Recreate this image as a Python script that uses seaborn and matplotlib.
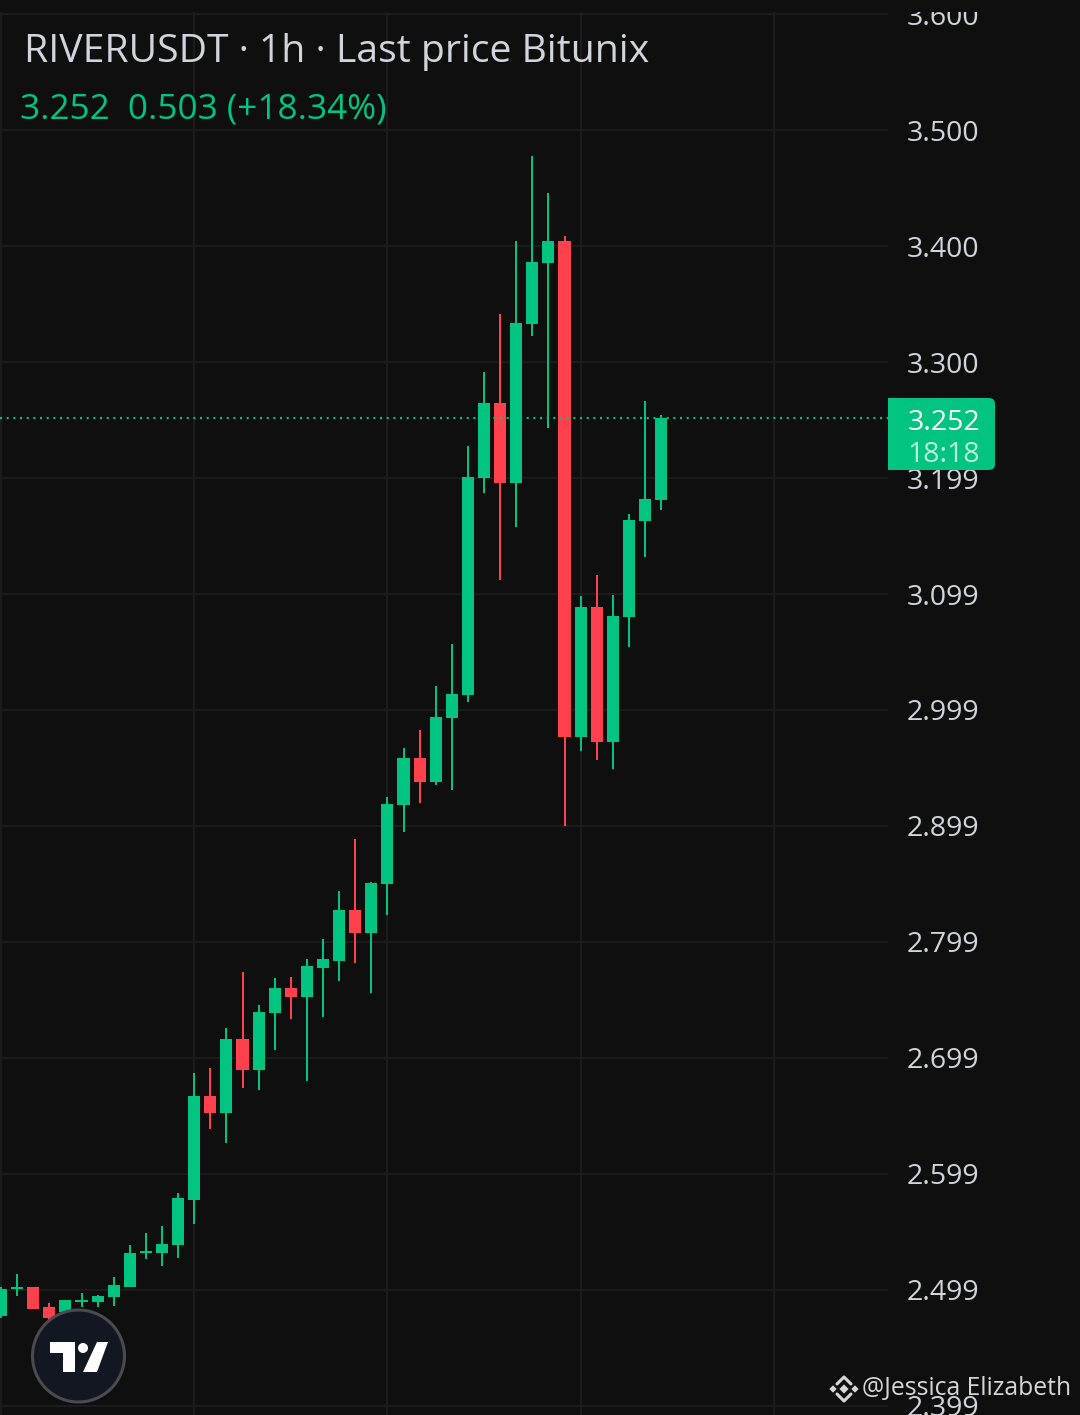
import numpy as np
import pandas as pd
import matplotlib.pyplot as plt
import seaborn as sns
from matplotlib.patches import Circle, Polygon, FancyBboxPatch, Rectangle

# HOURLY CANDLES
opens = [2.478, 2.501, 2.503, 2.485, 2.481, 2.490, 2.490, 2.494, 2.503, 2.532,
         2.532, 2.539, 2.578, 2.667, 2.653, 2.716, 2.690, 2.739, 2.760, 2.753,
         2.778, 2.784, 2.828, 2.808, 2.850, 2.918, 2.959, 2.938, 2.993, 3.013,
         3.200, 3.265, 3.196, 3.333, 3.385, 3.404, 2.977, 3.089, 2.972, 3.080,
         3.163, 3.181]
closes = [2.501, 2.502, 2.484, 2.476, 2.491, 2.491, 2.495, 2.504, 2.532, 2.533,
          2.540, 2.579, 2.667, 2.653, 2.716, 2.690, 2.740, 2.760, 2.753, 2.779,
          2.785, 2.828, 2.808, 2.851, 2.919, 2.959, 2.938, 2.994, 3.014, 3.201,
          3.265, 3.196, 3.334, 3.386, 3.404, 2.977, 3.089, 2.972, 3.081, 3.164,
          3.182, 3.252]
highs = [2.503, 2.514, 2.503, 2.489, 2.491, 2.497, 2.496, 2.511, 2.539, 2.549,
         2.555, 2.584, 2.687, 2.691, 2.726, 2.774, 2.746, 2.769, 2.770, 2.785,
         2.803, 2.844, 2.889, 2.852, 2.925, 2.967, 2.983, 3.021, 3.057, 3.228,
         3.291, 3.341, 3.404, 3.478, 3.446, 3.409, 3.098, 3.116, 3.099, 3.169,
         3.266, 3.254]
lows = [2.476, 2.495, 2.484, 2.473, 2.478, 2.485, 2.485, 2.486, 2.503, 2.527,
        2.521, 2.528, 2.557, 2.639, 2.627, 2.674, 2.672, 2.707, 2.734, 2.680,
        2.735, 2.766, 2.782, 2.756, 2.823, 2.895, 2.920, 2.935, 2.931, 3.007,
        3.187, 3.112, 3.158, 3.322, 3.243, 2.900, 2.965, 2.957, 2.949, 3.054,
        3.132, 3.172]

tick_values = [3.6, 3.5, 3.4, 3.3, 3.2, 3.1, 3.0, 2.9, 2.8, 2.7, 2.6, 2.5, 2.4]
tick_labels = ["3.600", "3.500", "3.400", "3.300", "3.199", "3.099", "2.999",
               "2.899", "2.799", "2.699", "2.599", "2.499", "2.399"]
time_grid = [0, 12, 24, 36, 48]

last_price = 3.252
title = "RIVERUSDT \u00b7 1h \u00b7 Last price Bitunix"
subtitle = "3.252  0.503 (+18.34%)"
countdown = "18:18"
watermark = "@Jessica Elizabeth"

BG = "#0f0f0f"
GRID = "#1c1c1c"
UP = "#00c47f"
DOWN = "#ff414e"
TXT = "#d1d4dc"

df = pd.DataFrame({"open": opens, "high": highs, "low": lows, "close": closes})
df["i"] = np.arange(len(df))
df["up"] = df["close"] >= df["open"]
df["color"] = np.where(df["up"], UP, DOWN)
df["bottom"] = df[["open", "close"]].min(axis=1)
df["body"] = (df["close"] - df["open"]).abs().clip(lower=0.0018)

sns.set_theme(style="dark", rc={"axes.facecolor": BG, "figure.facecolor": BG})
plt.rcParams["font.family"] = ["Open Sans", "DejaVu Sans"]

fig = plt.figure(figsize=(10.8, 14.15), dpi=100)
ax = fig.add_axes([0, 0, 888 / 1080, 1])
ax.set_facecolor(BG)

# grid
for v in tick_values:
    ax.axhline(v, color=GRID, lw=1.5, zorder=0)
for t in time_grid:
    ax.axvline(t, color=GRID, lw=1.5, zorder=0)

# candles
ax.vlines(df["i"], df["low"], df["high"], colors=df["color"], lw=1.45, zorder=2)
ax.bar(df["i"], df["body"], bottom=df["bottom"], width=0.75,
       color=df["color"], linewidth=0, zorder=3)

# last price line
ax.axhline(last_price, color=UP, ls=(0, (1, 2.2)), lw=1.5, zorder=4)

ax.set_xlim(-0.062, 55.09)
ax.set_ylim(2.39224, 3.61207)
ax.set_xticks([])
ax.yaxis.tick_right()
ax.set_yticks(tick_values)
ax.set_yticklabels(tick_labels)
ax.tick_params(axis="y", length=0, pad=13.7, labelsize=20.5, labelcolor=TXT)
ax.grid(False)
for s in ax.spines.values():
    s.set_visible(False)

# overlay in pixel coordinates
ov = fig.add_axes([0, 0, 1, 1])
ov.set_xlim(0, 1080)
ov.set_ylim(1415, 0)
ov.axis("off")
ov.patch.set_alpha(0)

# top strip hides the upper part of the 3.600 label
ov.add_patch(Rectangle((0, 0), 1080, 12, fc=BG, ec="none"))

ov.text(24, 62, title, fontsize=28.2, color=TXT, va="baseline", ha="left")
ov.text(20, 118, subtitle, fontsize=25.3, color=UP, va="baseline", ha="left")

# price badge
ov.add_patch(FancyBboxPatch((888, 398), 107, 72,
                            boxstyle="round,pad=0,rounding_size=6",
                            fc=UP, ec="none"))
ov.add_patch(Rectangle((888, 398), 12, 72, fc=UP, ec="none"))
ov.text(944, 420, "3.252", fontsize=20.5, color="white", ha="center", va="center_baseline")
ov.text(944, 452, countdown, fontsize=20.5, color="#b9f2da", ha="center", va="center_baseline")

# tradingview logo
ov.add_patch(Circle((78.5, 1356), 46, fc="#131722", ec="#4a4a50", lw=2.2))
ov.add_patch(Polygon([(50, 1342), (75, 1342), (75, 1372), (63, 1372),
                      (63, 1353), (50, 1353)], closed=True, fc="white", ec="none"))
ov.add_patch(Circle((83, 1348), 5, fc="white", ec="none"))
ov.add_patch(Polygon([(97, 1342), (108, 1342), (97, 1372), (83, 1372)],
                     closed=True, fc="white", ec="none"))

# watermark
WM = "#d6d6d6"
ov.plot([837, 844, 851], [1384, 1377, 1384], color=WM, lw=2.2)
ov.plot([837, 844, 851], [1394, 1401, 1394], color=WM, lw=2.2)
ov.scatter([833, 855, 844], [1389, 1389, 1389], marker="D", s=[14, 14, 22], color=WM, lw=0)
ov.text(862, 1389, watermark, fontsize=17.8, color=WM, ha="left", va="center")

fig.savefig("out.png", dpi=100, facecolor=BG)
